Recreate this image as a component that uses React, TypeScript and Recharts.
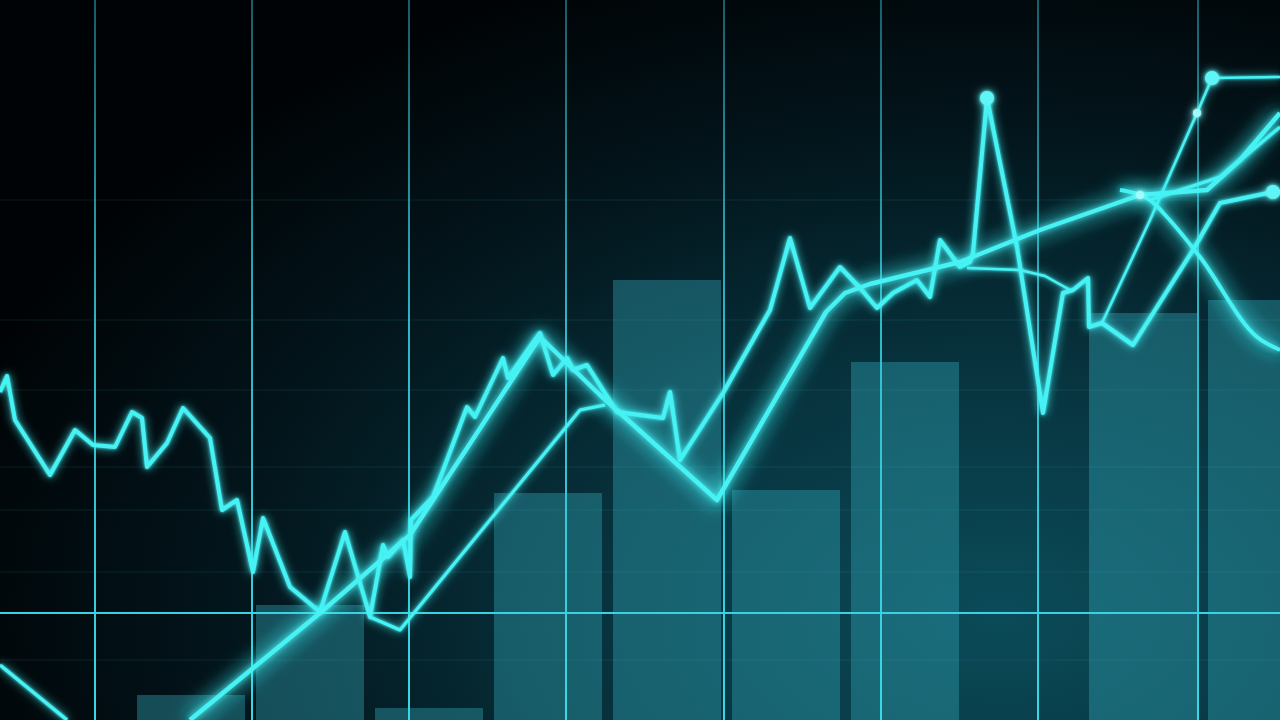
import React from 'react';
import { ComposedChart, BarChart, Bar, Line, Scatter, XAxis, YAxis, ReferenceLine } from 'recharts';

// ---- bar data (one slot per period) ----
const barSlots = ['P1', 'P2', 'P3', 'P4', 'P5', 'P6', 'P7', 'P8', 'P9', 'P10', 'P11', 'P12'];
const barValues = [0, 0, 2.5, 11.5, 1.2, 22.7, 44, 23, 35.8, 0, 40.7, 42];

// ---- grid ----
const gridX = [9.5, 25.2, 40.9, 56.6, 72.4, 88.1, 103.8, 119.8];
const baseLineY = 10.7;
const faintY = [6, 14.8, 21, 25.3, 33, 40, 52];

// ---- line series: [time, price] ----
const jagged: [number, number][] = [
  [0, 32.8], [0.7, 34.4], [1.5, 30.0], [5.0, 24.5], [7.5, 29.0], [9.3, 27.5], [11.5, 27.3],
  [13.2, 30.8], [14.2, 30.2], [14.7, 25.3], [16.7, 27.7], [18.3, 31.2], [21.0, 28.2],
  [22.2, 21.0], [23.7, 22.0], [25.3, 14.8], [26.3, 20.2], [29.0, 13.3], [32.0, 10.8],
  [34.5, 18.8], [37.0, 10.3], [38.3, 17.5], [38.8, 16.3], [40.3, 18.0], [41.0, 14.3],
  [41.1, 20.0], [43.3, 22.3], [46.7, 31.3], [47.5, 30.3], [50.3, 36.2], [50.8, 34.2],
  [54.0, 38.7], [55.3, 34.5], [56.7, 36.2], [57.3, 35.0], [58.7, 35.5], [61.7, 30.8],
  [66.3, 30.2], [67.0, 32.8], [68.0, 26.0], [72.3, 32.7], [77.0, 41.0], [79.0, 48.2],
  [81.0, 41.2], [84.0, 45.3], [86.0, 43.2], [87.7, 41.2], [89.3, 42.7], [91.7, 44.0],
  [93.0, 42.3], [94.0, 48.0], [96.0, 45.3], [97.0, 45.8], [97.3, 46.7], [98.7, 62.2],
  [101.7, 47.3], [104.3, 30.7], [106.3, 42.7], [107.3, 43.0], [108.8, 44.2], [108.9, 39.3],
  [110.2, 39.7], [113.3, 37.5], [119.3, 47.0], [122.0, 51.7], [127.3, 52.8], [128, 52.8],
];
const trend: [number, number][] = [
  [19.0, 0], [32.0, 10.7], [41.0, 18.5], [54.0, 38.3], [60.0, 32.5], [71.7, 22.0],
  [82.6, 40.8], [84.5, 42.7], [87.0, 43.6], [96.0, 45.8], [104.0, 49.0], [114.0, 52.5],
  [120.7, 53.0], [124.0, 56.0], [128.0, 60.7],
];
const trendUpper: [number, number][] = [[115.0, 52.0], [122.0, 54.3], [128, 59.3]];
const crossDown: [number, number][] = [
  [112, 53], [115, 52], [116.7, 50.3], [120.0, 46.3], [125.7, 38.3], [128, 37],
];
const flatLink: [number, number][] = [[96.7, 45.2], [102, 45], [104.5, 44.4], [107, 43]];
const riseToPeak: [number, number][] = [
  [110.2, 39.7], [115, 50], [119.7, 60.7], [121.2, 64.2], [128, 64.3],
];
const lowerLine: [number, number][] = [[37, 10.3], [40, 9.0], [58, 31], [60.5, 31.5]];
const cornerLine: [number, number][] = [[0, 5.5], [6.7, 0]];

const bigMarkers: [number, number][] = [[98.7, 62.2], [121.2, 64.2], [127.3, 52.8]];
const smallMarkers: [number, number][] = [[119.7, 60.7], [114.0, 52.5]];

const toPts = (a: [number, number][]) => a.map(([x, y]) => ({ x, y }));
const barData = barSlots.map((slot, i) => ({ slot, value: barValues[i] }));

const CYAN = '#47f2f4';

const lineCommon = {
  dataKey: 'y',
  stroke: CYAN,
  dot: false,
  activeDot: false,
  strokeLinejoin: 'round' as const,
  isAnimationActive: false,
};

export default function App() {
  return (
    <div
      style={{
        position: 'fixed',
        left: 0,
        top: 0,
        width: 1280,
        height: 720,
        overflow: 'hidden',
        background:
          'radial-gradient(ellipse 85% 95% at 78% 85%, #0b4b59 0%, #07343f 35%, #03171e 68%, #000305 100%)',
      }}
    >
      <style>{`
        .glow path { filter: url(#glowSoft); }
        .glowStrong path { filter: url(#glowStrong); }
        .markers circle { filter: url(#glowSoft); }
      `}</style>
      <svg width={0} height={0} style={{ position: 'absolute' }}>
        <defs>
          <filter id="glowSoft" filterUnits="userSpaceOnUse" x={-100} y={-100} width={1500} height={950}>
            <feGaussianBlur in="SourceGraphic" stdDeviation={5} result="b1" />
            <feGaussianBlur in="SourceGraphic" stdDeviation={1.5} result="b2" />
            <feMerge>
              <feMergeNode in="b1" />
              <feMergeNode in="b2" />
              <feMergeNode in="SourceGraphic" />
            </feMerge>
          </filter>
          <filter id="glowStrong" filterUnits="userSpaceOnUse" x={-100} y={-100} width={1500} height={950}>
            <feGaussianBlur in="SourceGraphic" stdDeviation={10} result="b1" />
            <feGaussianBlur in="SourceGraphic" stdDeviation={3} result="b2" />
            <feMerge>
              <feMergeNode in="b1" />
              <feMergeNode in="b1" />
              <feMergeNode in="b2" />
              <feMergeNode in="SourceGraphic" />
            </feMerge>
          </filter>
          <linearGradient id="gridFade" gradientUnits="userSpaceOnUse" x1={0} y1={0} x2={0} y2={720}>
            <stop offset="0%" stopColor="#2aa6b8" stopOpacity={0.55} />
            <stop offset="45%" stopColor="#33c8d8" stopOpacity={0.9} />
            <stop offset="100%" stopColor="#3ad8e6" stopOpacity={1} />
          </linearGradient>
        </defs>
      </svg>

      {/* bars layer */}
      <div style={{ position: 'absolute', left: -107.5, top: 0 }}>
        <BarChart width={1428} height={720} data={barData} margin={{ top: 0, right: 0, bottom: 0, left: 0 }}>
          <XAxis dataKey="slot" hide />
          <YAxis type="number" domain={[0, 72]} hide allowDataOverflow />
          <Bar dataKey="value" barSize={108} fill="#2f9fb0" fillOpacity={0.42} isAnimationActive={false} />
        </BarChart>
      </div>

      {/* lines layer */}
      <div style={{ position: 'absolute', left: 0, top: 0 }}>
        <ComposedChart width={1280} height={720} margin={{ top: 0, right: 0, bottom: 0, left: 0 }}>
          <XAxis dataKey="x" type="number" domain={[0, 128]} hide allowDataOverflow />
          <YAxis dataKey="y" type="number" domain={[0, 72]} hide allowDataOverflow />
          {faintY.map((v) => (
            <ReferenceLine key={'f' + v} y={v} stroke="#3fc6d6" strokeOpacity={0.06} strokeWidth={2} />
          ))}
          {gridX.map((v) => (
            <ReferenceLine key={'g' + v} x={v} stroke="url(#gridFade)" strokeWidth={2} />
          ))}
          <ReferenceLine y={baseLineY} stroke="#3ad2e2" strokeWidth={2} />

          <Line className="glow" data={toPts(cornerLine)} type="linear" strokeWidth={3.5} {...lineCommon} />
          <Line className="glow" data={toPts(lowerLine)} type="linear" strokeWidth={3} {...lineCommon} />
          <Line className="glow" data={toPts(flatLink)} type="linear" strokeWidth={2.5} {...lineCommon} />
          <Line className="glow" data={toPts(riseToPeak)} type="linear" strokeWidth={2.5} {...lineCommon} />
          <Line className="glow" data={toPts(trendUpper)} type="linear" strokeWidth={3} {...lineCommon} />
          <Line className="glowStrong" data={toPts(crossDown)} type="monotone" strokeWidth={4} {...lineCommon} />
          <Line className="glow" data={toPts(jagged)} type="linear" strokeWidth={4} {...lineCommon} />
          <Line className="glowStrong" data={toPts(trend)} type="linear" strokeWidth={4.5} {...lineCommon} />

          <Scatter
            className="markers"
            data={toPts(bigMarkers)}
            isAnimationActive={false}
            shape={(p: any) => <circle cx={p.cx} cy={p.cy} r={7} fill="#5ff5f6" />}
          />
          <Scatter
            className="markers"
            data={toPts(smallMarkers)}
            isAnimationActive={false}
            shape={(p: any) => <circle cx={p.cx} cy={p.cy} r={4} fill="#9ffcfc" />}
          />
        </ComposedChart>
      </div>
    </div>
  );
}
